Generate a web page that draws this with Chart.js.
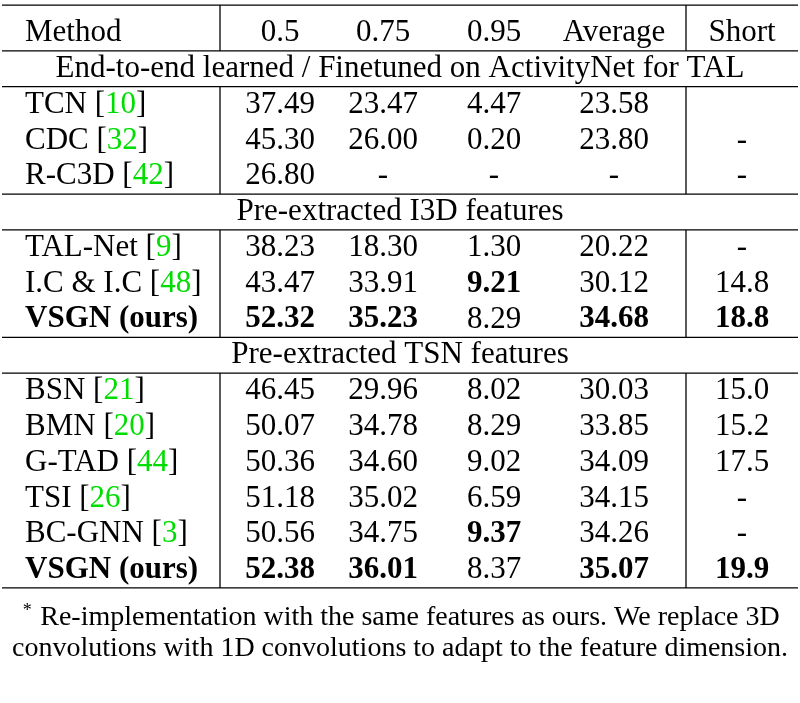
<!DOCTYPE html>
<html>
<head>
<meta charset="UTF-8">
<script src="https://cdn.jsdelivr.net/npm/chart.js"></script>
<style>
  body { margin: 0; background: #fff; }
  #wrap { width: 800px; height: 703px; }
</style>
</head>
<body>
<div id="wrap"><canvas id="tbl"></canvas></div>
<script>
// column headers and table content
const columns = ['Method', '0.5', '0.75', '0.95', 'Average', 'Short'];
const sections = ['End-to-end learned / Finetuned on ActivityNet for TAL', 'Pre-extracted I3D features', 'Pre-extracted TSN features'];
const methods = [
  ['TCN', '10'], ['CDC', '32'], ['R-C3D', '42'],
  ['TAL-Net', '9'], ['I.C & I.C', '48'], ['VSGN (ours)', ''],
  ['BSN', '21'], ['BMN', '20'], ['G-TAD', '44'], ['TSI', '26'], ['BC-GNN', '3'], ['VSGN (ours)', '']
];
const v05 = ['37.49', '45.30', '26.80', '38.23', '43.47', '52.32', '46.45', '50.07', '50.36', '51.18', '50.56', '52.38'];
const v075 = ['23.47', '26.00', '-', '18.30', '33.91', '35.23', '29.96', '34.78', '34.60', '35.02', '34.75', '36.01'];
const v095 = ['4.47', '0.20', '-', '1.30', '9.21', '8.29', '8.02', '8.29', '9.02', '6.59', '9.37', '8.37'];
const vAvg = ['23.58', '23.80', '-', '20.22', '30.12', '34.68', '30.03', '33.85', '34.09', '34.15', '34.26', '35.07'];
const vShort = ['', '-', '-', '-', '14.8', '18.8', '15.0', '15.2', '17.5', '-', '-', '19.9'];
// bold cells: [row, col]
const boldCells = [[4,3],[5,0],[5,1],[5,2],[5,4],[5,5],[10,3],[11,0],[11,1],[11,2],[11,4],[11,5]];
const footnote = ['Re-implementation with the same features as ours. We replace 3D',
                  'convolutions with 1D convolutions to adapt to the feature dimension.'];

// layout: row order (header, section, data...)
const layout = ['H', 'S0', 0, 1, 2, 'S1', 3, 4, 5, 'S2', 6, 7, 8, 9, 10, 11];
const colX = [25, 280, 383, 494, 614, 742];
const ROW0 = 33, ROWH = 35.8;
const rowY = i => ROW0 + ROWH * i;
const FONT = '"Liberation Serif", "DejaVu Serif", serif';
const FS = 31;

const tablePlugin = {
  id: 'table',
  afterDraw(chart) {
    const ctx = chart.ctx, xs = chart.scales.x, ys = chart.scales.y;
    const X = v => xs.getPixelForValue(v), Y = v => ys.getPixelForValue(v);
    ctx.save();
    ctx.textBaseline = 'middle';
    ctx.fillStyle = '#000';
    const put = (txt, x, y, align, bold) => {
      ctx.font = (bold ? 'bold ' : '') + FS + 'px ' + FONT;
      ctx.textAlign = align;
      ctx.fillText(txt, X(x), Y(y));
    };
    layout.forEach((r, i) => {
      const y = rowY(i);
      if (r === 'H') {
        columns.forEach((c, j) => put(c, colX[j], y, j === 0 ? 'left' : 'center', false));
      } else if (typeof r === 'string') {
        put(sections[+r.slice(1)], 400, y, 'center', false);
      } else {
        const isB = c => boldCells.some(b => b[0] === r && b[1] === c);
        const [name, ref] = methods[r];
        ctx.font = (isB(0) ? 'bold ' : '') + FS + 'px ' + FONT;
        ctx.textAlign = 'left';
        let x = X(colX[0]);
        if (ref) {
          const parts = [[name + ' [', '#000'], [ref, '#00dd00'], [']', '#000']];
          parts.forEach(p => { ctx.fillStyle = p[1]; ctx.fillText(p[0], x, Y(y)); x += ctx.measureText(p[0]).width; });
          ctx.fillStyle = '#000';
        } else {
          ctx.fillText(name, x, Y(y));
        }
        [v05, v075, v095, vAvg, vShort].forEach((arr, j) => put(arr[r], colX[j + 1], y, 'center', isB(j + 1)));
      }
    });
    // footnote
    ctx.font = '28px ' + FONT;
    ctx.textAlign = 'center';
    ctx.fillText(footnote[0], X(410), Y(618));
    ctx.fillText(footnote[1], X(400), Y(649));
    const fw = ctx.measureText(footnote[0]).width;
    ctx.font = '18px ' + FONT;
    const w0 = ctx.measureText('*').width;
    ctx.fillText('*', X(410) - fw / 2 - w0 - 4, Y(611));

    // rules
    ctx.strokeStyle = '#000';
    ctx.lineWidth = 1.3;
    const hl = y => { ctx.beginPath(); ctx.moveTo(X(2), Y(y)); ctx.lineTo(X(798), Y(y)); ctx.stroke(); };
    const vl = (x, a, b) => { ctx.beginPath(); ctx.moveTo(X(x), Y(a)); ctx.lineTo(X(x), Y(b)); ctx.stroke(); };
    [ -0.78, 0.5, 1.5, 4.5, 5.5, 8.5, 9.5, 15.5 ].forEach(i => hl(rowY(i)));
    [[-0.78, 0.5], [1.5, 4.5], [5.5, 8.5], [9.5, 15.5]].forEach(([a, b]) => {
      vl(220, rowY(a), rowY(b));
      vl(686, rowY(a), rowY(b));
    });
    ctx.restore();
  }
};

new Chart(document.getElementById('tbl'), {
  type: 'scatter',
  data: { datasets: [{ data: [] }] },
  options: {
    responsive: true,
    maintainAspectRatio: false,
    animation: false,
    layout: { padding: 0 },
    plugins: { legend: { display: false }, tooltip: { enabled: false } },
    scales: {
      x: { type: 'linear', min: 0, max: 800, display: false },
      y: { type: 'linear', min: 0, max: 703, reverse: true, display: false }
    }
  },
  plugins: [tablePlugin]
});
</script>
</body>
</html>
